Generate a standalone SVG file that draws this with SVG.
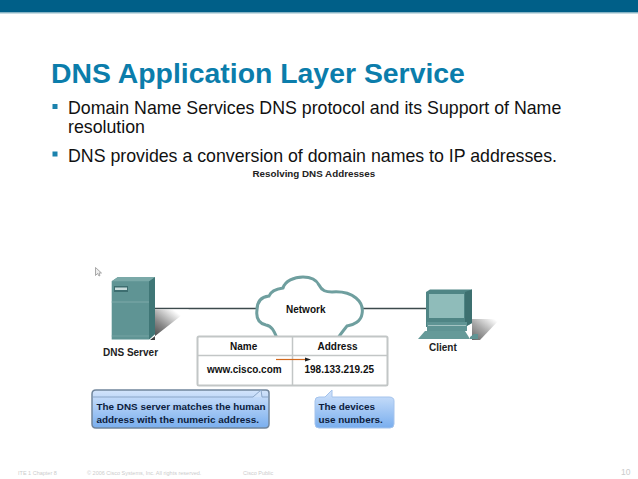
<svg xmlns="http://www.w3.org/2000/svg" width="638" height="479" viewBox="0 0 638 479">
<defs>
<linearGradient id="bub" x1="0" y1="0" x2="0" y2="1"><stop offset="0" stop-color="#d3e4fb"/><stop offset="1" stop-color="#79aeee"/></linearGradient>
<linearGradient id="sh" x1="0" y1="1" x2="1" y2="0"><stop offset="0" stop-color="#333"/><stop offset=".4" stop-color="#8a8a8a"/><stop offset=".8" stop-color="#fff"/></linearGradient>
<linearGradient id="sh2" x1="0" y1="1" x2="1" y2="0"><stop offset="0" stop-color="#666"/><stop offset=".45" stop-color="#aaa"/><stop offset=".9" stop-color="#fff"/></linearGradient>
</defs>
<style>
text{font-family:"Liberation Sans",Arial,sans-serif}
.b{font-weight:700;fill:#111;font-size:10px}
.c{font-weight:700;fill:#0c1c3c;font-size:9.900px}
.body{font-size:17.750px;fill:#111}
.f{font-size:5.500px;fill:#ccc}
.g{fill:#222;font-size:10px;font-weight:700}
</style>
<rect width="638" height="479" fill="#fff"/>
<rect id="band" width="638" height="12.500" fill="#005f88"/>
<rect y="12.500" width="638" height="1" fill="#8fb9c8"/>
<text x="51" y="83" font-size="28.400" font-weight="700" fill="#0b7dab">DNS Application Layer Service</text>
<g id="bullets">
<rect x="52.500" y="104" width="5" height="5" fill="#1b82ad"/>
<text class="body" x="68" y="113.500">Domain Name Services DNS protocol and its Support of Name</text>
<text class="body" x="68" y="133">resolution</text>
<rect x="52.500" y="151.500" width="5" height="5" fill="#1b82ad"/>
<text class="body" x="68" y="161.500">DNS provides a conversion of domain names to IP addresses.</text>
</g>
<text x="252.500" y="177" font-size="9.800px" font-weight="700" fill="#222">Resolving DNS Addresses</text>
<path id="cursor" d="M95.500 267.500v8l2-2 1.500 2.500 1-.5-1-2.500h2.500z" fill="#eee" stroke="#888" stroke-width=".7"/>
<g id="connectors" fill="none" stroke="#3c4a4c" stroke-width="1.500">
<line x1="155" y1="308.500" x2="258" y2="308.500"/>
<line x1="362" y1="308.500" x2="426" y2="308.500"/>
</g>
<g id="dns-server">
<path d="M155 309.500H189L150 340H155z" fill="url(#sh)"/>
<path d="M111.700 281.300L118 277H155V334L149 339.500H111.700z" fill="#5f9494"/>
<path d="M149 281.300L155 277V334L149 339.500z" fill="#3f7676"/>
<path d="M111.700 281.300L118 277H155L149 281.300z" fill="#7aa9a8"/>
<rect x="114" y="286" width="14" height="6" fill="#3d6e70"/>
<rect x="115" y="287.500" width="12" height="2.500" fill="#c9dcdc"/>
<line x1="111.700" y1="302" x2="149" y2="302" stroke="#7fa9a9"/>
<line x1="111.700" y1="336" x2="149" y2="336" stroke="#7fa9a9" stroke-width=".7"/>
<text class="g" x="103" y="355.500">DNS Server</text>
</g>
<g id="network">
<path d="M277 338C274 331 272 326 266 325C258 323 256 317 257 310C257 302 260 297 269 296C271 291 276 289 283 288C285 281 294 277 303 277C310 277 316 279 319 285C322 291 326 292 332 292C345 291 351 294 356 298C362 303 363 309 362 314C361 321 354 325 347 326C343 331 340 335 338 338z" fill="#fff" stroke="#6f9f9f" stroke-width="3"/>
<text class="b" x="286" y="312.500">Network</text>
</g>
<g id="client">
<path d="M472 319H500L480 340H472z" fill="url(#sh2)"/>
<path d="M426 292L430 289.500H472V323L465 327H426z" fill="#4f8585"/>
<path d="M429 294H464V318H429z" fill="#8fbcba"/>
<path d="M465 292L472 289.500V323L465 327z" fill="#3d7070"/>
<path d="M427 322H467V331H427z" fill="#5f9494"/>
<path d="M428 325.500H466" stroke="#a3c3c2" fill="none"/>
<path d="M425 331H465L470 339H418z" fill="#659a99"/>
<path d="M470 337L474 334H478V339H470z" fill="#5f9494"/>
<text class="g" x="429" y="351">Client</text>
</g>
<g id="table">
<rect x="197.500" y="336.500" width="190" height="49" fill="#fff" stroke="#c2c6c6" stroke-width="2" rx="1.500"/>
<line x1="197" y1="355.500" x2="388" y2="355.500" stroke="#c2c6c6" stroke-width="1.500"/>
<line x1="292.500" y1="336" x2="292.500" y2="386" stroke="#c2c6c6" stroke-width="1.500"/>
<text class="b" x="230" y="350">Name</text>
<text class="b" x="317.500" y="350">Address</text>
<text class="b" x="207" y="373">www.cisco.com</text>
<text class="b" x="304.500" y="373">198.133.219.25</text>
<line x1="276" y1="359.500" x2="305" y2="359.500" stroke="#d2691e" stroke-width="1.200"/>
<path d="M311 359.500L305 357.500V361.500z" fill="#222"/>
</g>
<g id="callout-left">
<path d="M96 390H266Q269 390 269 393V424Q269 428 265 428H96Q92 428 92 424V394Q92 390 96 390z" fill="url(#bub)" stroke="#70859c" stroke-width="1.500"/>
<path d="M93 397H253L261 390L262 397H268" fill="#e6f0fd" fill-opacity=".3" stroke="#8ba6c8"/>
<text class="c" x="96.500" y="410">The DNS server matches the human</text>
<text class="c" x="96.500" y="423">address with the numeric address.</text>
</g>
<g id="callout-right">
<path d="M319 397H325L332 390V397H389Q394 397 394 401V424Q394 428 390 428H319Q315 428 315 424V401Q315 397 319 397z" fill="url(#bub)" stroke="#a4c3ec"/>
<text class="c" x="318.500" y="410">The devices</text>
<text class="c" x="318.500" y="423">use numbers.</text>
</g>
<g id="footer">
<text class="f" x="18" y="475">ITE 1 Chapter 8</text>
<text class="f" x="87" y="475">© 2006 Cisco Systems, Inc. All rights reserved.</text>
<text class="f" x="243" y="475">Cisco Public</text>
<text x="621" y="475" font-size="8.500px" fill="#ccc">10</text>
</g>
</svg>
